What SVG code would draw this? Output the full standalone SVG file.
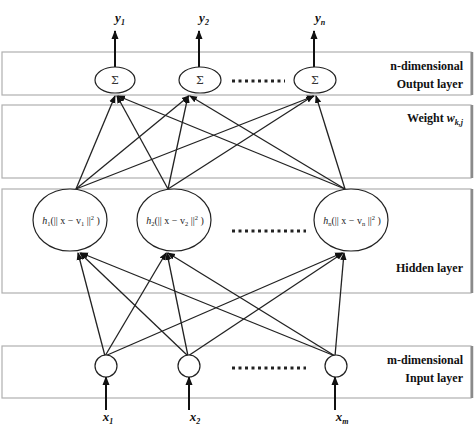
<svg xmlns="http://www.w3.org/2000/svg" width="474" height="430" viewBox="0 0 474 430">
<style>
.band{fill:#fff;stroke:#b0b0b0;stroke-width:1.2}
.shadow{stroke:#8a8a8a;stroke-width:2.5}
.node{fill:#fff;stroke:#222;stroke-width:1.2}
.lk{stroke:#222;stroke-width:1.3;fill:none;marker-end:url(#ah)}
.io{stroke:#111;stroke-width:2;fill:none;marker-end:url(#ah2)}
.lbl{font-family:"Liberation Serif",serif;font-weight:bold;font-size:12px;fill:#111;text-anchor:end}
.var{font-family:"Liberation Serif",serif;font-weight:bold;font-style:italic;font-size:13px;fill:#111;text-anchor:middle}
.sub{font-size:8px}
.sm{font-size:6.5px}
.sig{font-family:"DejaVu Serif",serif;font-size:11px;fill:#333;text-anchor:middle}
.fx{font-family:"Liberation Serif",serif;font-size:10px;fill:#222;text-anchor:middle}
.dots{stroke:#222;stroke-width:3;stroke-dasharray:3 3.5}
</style>
<defs>
<marker id="ah" markerWidth="8" markerHeight="8" refX="7" refY="4" orient="auto" markerUnits="userSpaceOnUse"><path d="M0,0.8 L8,4 L0,7.2 Z" fill="#111"/></marker>
<marker id="ah2" markerWidth="9" markerHeight="9" refX="8" refY="4.5" orient="auto" markerUnits="userSpaceOnUse"><path d="M0,1 L9,4.5 L0,8 Z" fill="#111"/></marker>
</defs>
<g id="bands">
<rect class="band" x="2" y="52" width="469" height="43"/><line class="shadow" x1="472" y1="52" x2="472" y2="95"/>
<rect class="band" x="2" y="105" width="469" height="73"/><line class="shadow" x1="472" y1="105" x2="472" y2="178"/>
<rect class="band" x="2" y="189" width="469" height="104"/><line class="shadow" x1="472" y1="189" x2="472" y2="293"/>
<rect class="band" x="2" y="346" width="469" height="52"/><line class="shadow" x1="472" y1="346" x2="472" y2="398"/>
</g>
<g id="connectors">
<line class="lk" x1="76" y1="189" x2="115" y2="96"/>
<line class="lk" x1="76" y1="189" x2="189" y2="96"/>
<line class="lk" x1="76" y1="189" x2="314" y2="96"/>
<line class="lk" x1="168" y1="189" x2="117" y2="96"/>
<line class="lk" x1="168" y1="189" x2="188" y2="96"/>
<line class="lk" x1="168" y1="189" x2="313" y2="96"/>
<line class="lk" x1="345" y1="189" x2="118" y2="96"/>
<line class="lk" x1="345" y1="189" x2="190" y2="96"/>
<line class="lk" x1="345" y1="189" x2="316" y2="96"/>
<line class="lk" x1="105" y1="356" x2="78" y2="253"/>
<line class="lk" x1="105" y1="356" x2="166" y2="253"/>
<line class="lk" x1="105" y1="356" x2="342" y2="253"/>
<line class="lk" x1="188" y1="356" x2="80" y2="253"/>
<line class="lk" x1="188" y1="356" x2="167" y2="253"/>
<line class="lk" x1="188" y1="356" x2="343" y2="253"/>
<line class="lk" x1="335" y1="356" x2="81" y2="253"/>
<line class="lk" x1="335" y1="356" x2="168" y2="253"/>
<line class="lk" x1="335" y1="356" x2="344" y2="253"/>
<line class="io" x1="115" y1="67" x2="115" y2="31"/>
<line class="io" x1="199" y1="67" x2="199" y2="31"/>
<line class="io" x1="314" y1="67" x2="314" y2="31"/>
<line class="io" x1="106" y1="410" x2="106" y2="377"/>
<line class="io" x1="189" y1="410" x2="189" y2="377"/>
<line class="io" x1="335" y1="410" x2="335" y2="377"/>
</g>
<g id="out1"><ellipse class="node" cx="115" cy="80" rx="20" ry="13"/><text class="sig" x="115" y="84">Σ</text></g>
<g id="out2"><ellipse class="node" cx="200" cy="80" rx="21" ry="13"/><text class="sig" x="200" y="84">Σ</text></g>
<g id="out3"><ellipse class="node" cx="315" cy="80" rx="21" ry="13"/><text class="sig" x="315" y="84">Σ</text></g>
<line class="dots" x1="232" y1="81" x2="285" y2="81"/>
<g id="hid1"><ellipse class="node" cx="70" cy="220" rx="37" ry="31"/><text class="fx" x="71" y="224"><tspan font-style="italic">h</tspan><tspan class="sm" dy="2">1</tspan><tspan dy="-2">(|| x − v</tspan><tspan class="sm" dy="2">1</tspan><tspan dy="-2"> ||</tspan><tspan class="sm" dy="-4">2</tspan><tspan dy="4"> )</tspan></text></g>
<g id="hid2"><ellipse class="node" cx="174" cy="220" rx="37" ry="31"/><text class="fx" x="175" y="224"><tspan font-style="italic">h</tspan><tspan class="sm" dy="2">2</tspan><tspan dy="-2">(|| x − v</tspan><tspan class="sm" dy="2">2</tspan><tspan dy="-2"> ||</tspan><tspan class="sm" dy="-4">2</tspan><tspan dy="4"> )</tspan></text></g>
<g id="hid3"><ellipse class="node" cx="351" cy="220" rx="37" ry="31"/><text class="fx" x="352" y="224"><tspan font-style="italic">h</tspan><tspan class="sm" dy="2">n</tspan><tspan dy="-2">(|| x − v</tspan><tspan class="sm" dy="2">n</tspan><tspan dy="-2"> ||</tspan><tspan class="sm" dy="-4">2</tspan><tspan dy="4"> )</tspan></text></g>
<line class="dots" x1="232" y1="231" x2="306" y2="231"/>
<g id="in1"><ellipse class="node" cx="106" cy="366" rx="11" ry="11"/></g>
<g id="in2"><ellipse class="node" cx="189" cy="366" rx="11" ry="11"/></g>
<g id="in3"><ellipse class="node" cx="336" cy="366" rx="11" ry="11"/></g>
<line class="dots" x1="232" y1="368" x2="306" y2="368"/>
<g id="labels">
<text class="var" x="120" y="22">y<tspan class="sub" dy="3">1</tspan></text>
<text class="var" x="204" y="22">y<tspan class="sub" dy="3">2</tspan></text>
<text class="var" x="320" y="22">y<tspan class="sub" dy="3">n</tspan></text>
<text class="var" x="108" y="421">x<tspan class="sub" dy="3">1</tspan></text>
<text class="var" x="195" y="421">x<tspan class="sub" dy="3">2</tspan></text>
<text class="var" x="342" y="421">x<tspan class="sub" dy="3">m</tspan></text>
<text class="lbl" x="463" y="70">n-dimensional</text>
<text class="lbl" x="463" y="88">Output layer</text>
<text class="lbl" x="463" y="122">Weight <tspan font-style="italic">w</tspan><tspan class="sub" dy="3" font-style="italic">k,j</tspan></text>
<text class="lbl" x="463" y="272">Hidden layer</text>
<text class="lbl" x="463" y="364">m-dimensional</text>
<text class="lbl" x="463" y="382">Input layer</text>
</g>
</svg>
